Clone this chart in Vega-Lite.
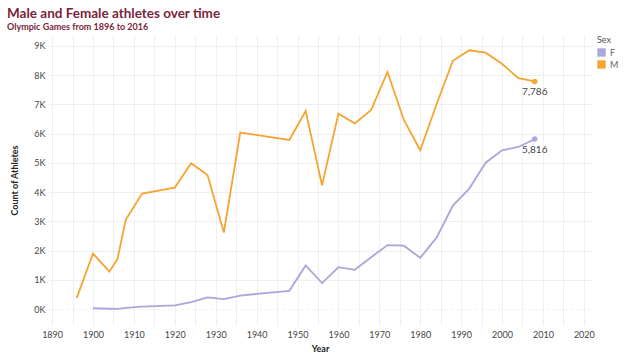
{
  "$schema": "https://vega.github.io/schema/vega-lite/v6.json",
  "autosize": "none",
  "width": 544,
  "height": 290,
  "padding": {"left": 48, "top": 35, "right": 50, "bottom": 31},
  "background": "white",
  "config": {
    "font": "Lato",
    "view": {"stroke": null}
  },
  "title": {
    "text": "Male and Female athletes over time",
    "subtitle": "Olympic Games from 1896 to 2016",
    "anchor": "start",
    "frame": "group",
    "dx": -41,
    "offset": 3,
    "fontSize": 13.5,
    "fontWeight": "bold",
    "color": "#7b1f3a",
    "subtitleFontSize": 9,
    "subtitleFontWeight": "bold",
    "subtitleColor": "#7b1f3a",
    "subtitlePadding": 3
  },
  "data": {
    "values": [
      {"Year": 1896, "Sex": "M", "Count": 380},
      {"Year": 1900, "Sex": "M", "Count": 1903},
      {"Year": 1904, "Sex": "M", "Count": 1285},
      {"Year": 1906, "Sex": "M", "Count": 1722},
      {"Year": 1908, "Sex": "M", "Count": 3054},
      {"Year": 1912, "Sex": "M", "Count": 3953},
      {"Year": 1920, "Sex": "M", "Count": 4158},
      {"Year": 1924, "Sex": "M", "Count": 4989},
      {"Year": 1928, "Sex": "M", "Count": 4588},
      {"Year": 1932, "Sex": "M", "Count": 2622},
      {"Year": 1936, "Sex": "M", "Count": 6038},
      {"Year": 1948, "Sex": "M", "Count": 5788},
      {"Year": 1952, "Sex": "M", "Count": 6773},
      {"Year": 1956, "Sex": "M", "Count": 4234},
      {"Year": 1960, "Sex": "M", "Count": 6684},
      {"Year": 1964, "Sex": "M", "Count": 6354},
      {"Year": 1968, "Sex": "M", "Count": 6811},
      {"Year": 1972, "Sex": "M", "Count": 8111},
      {"Year": 1976, "Sex": "M", "Count": 6469},
      {"Year": 1980, "Sex": "M", "Count": 5435},
      {"Year": 1984, "Sex": "M", "Count": 7007},
      {"Year": 1988, "Sex": "M", "Count": 8494},
      {"Year": 1992, "Sex": "M", "Count": 8853},
      {"Year": 1996, "Sex": "M", "Count": 8772},
      {"Year": 2000, "Sex": "M", "Count": 8390},
      {"Year": 2004, "Sex": "M", "Count": 7897},
      {"Year": 2008, "Sex": "M", "Count": 7786},
      {"Year": 1900, "Sex": "F", "Count": 33},
      {"Year": 1904, "Sex": "F", "Count": 16},
      {"Year": 1906, "Sex": "F", "Count": 11},
      {"Year": 1908, "Sex": "F", "Count": 47},
      {"Year": 1912, "Sex": "F", "Count": 87},
      {"Year": 1920, "Sex": "F", "Count": 134},
      {"Year": 1924, "Sex": "F", "Count": 244},
      {"Year": 1928, "Sex": "F", "Count": 404},
      {"Year": 1932, "Sex": "F", "Count": 347},
      {"Year": 1936, "Sex": "F", "Count": 468},
      {"Year": 1948, "Sex": "F", "Count": 628},
      {"Year": 1952, "Sex": "F", "Count": 1497},
      {"Year": 1956, "Sex": "F", "Count": 893},
      {"Year": 1960, "Sex": "F", "Count": 1435},
      {"Year": 1964, "Sex": "F", "Count": 1348},
      {"Year": 1968, "Sex": "F", "Count": 1777},
      {"Year": 1972, "Sex": "F", "Count": 2193},
      {"Year": 1976, "Sex": "F", "Count": 2172},
      {"Year": 1980, "Sex": "F", "Count": 1756},
      {"Year": 1984, "Sex": "F", "Count": 2447},
      {"Year": 1988, "Sex": "F", "Count": 3543},
      {"Year": 1992, "Sex": "F", "Count": 4124},
      {"Year": 1996, "Sex": "F", "Count": 5008},
      {"Year": 2000, "Sex": "F", "Count": 5431},
      {"Year": 2004, "Sex": "F", "Count": 5546},
      {"Year": 2008, "Sex": "F", "Count": 5816}
    ]
  },
  "encoding": {
    "x": {
      "field": "Year",
      "type": "quantitative",
      "scale": {"domain": [1889, 2022], "nice": false, "zero": false},
      "axis": {
        "title": "Year",
        "titleFontSize": 9,
        "titleFontWeight": "bold",
        "titleColor": "#222",
        "titlePadding": 5,
        "values": [1890, 1895, 1900, 1905, 1910, 1915, 1920, 1925, 1930, 1935, 1940, 1945, 1950, 1955, 1960, 1965, 1970, 1975, 1980, 1985, 1990, 1995, 2000, 2005, 2010, 2015, 2020],
        "labelExpr": "datum.value % 10 == 0 ? datum.value : ''",
        "labelFontSize": 9,
        "labelColor": "#444",
        "labelPadding": 5,
        "ticks": false,
        "domain": false,
        "grid": true,
        "gridColor": "#efefef",
        "labelOverlap": false
      }
    },
    "y": {
      "field": "Count",
      "type": "quantitative",
      "scale": {"domain": [-540, 9375], "nice": false, "zero": false},
      "axis": {
        "title": "Count of Athletes",
        "titleFontSize": 9,
        "titleFontWeight": "bold",
        "titleColor": "#222",
        "titlePadding": 14,
        "values": [0, 1000, 2000, 3000, 4000, 5000, 6000, 7000, 8000, 9000],
        "labelExpr": "format(datum.value / 1000, 'd') + 'K'",
        "labelFontSize": 9,
        "labelColor": "#444",
        "labelPadding": 3,
        "ticks": false,
        "domain": false,
        "grid": true,
        "gridColor": "#efefef",
        "gridDash": {"condition": {"test": "datum.value === 0", "value": [3, 3]}, "value": []}
      }
    },
    "color": {
      "field": "Sex",
      "type": "nominal",
      "scale": {"domain": ["F", "M"], "range": ["#a9a6dc", "#f5a431"]},
      "legend": {
        "title": "Sex",
        "orient": "none",
        "legendX": 549,
        "legendY": 1,
        "titleFontSize": 9,
        "titleFontWeight": "normal",
        "titleColor": "#555",
        "labelFontSize": 9,
        "labelColor": "#666",
        "symbolType": "square",
        "symbolSize": 70,
        "symbolStrokeWidth": 0,
        "rowPadding": 2,
        "titlePadding": 3
      }
    }
  },
  "layer": [
    {"mark": {"type": "line", "strokeWidth": 1.8}},
    {
      "transform": [{"filter": "datum.Year == 2008"}],
      "mark": {"type": "point", "filled": true, "size": 30, "opacity": 1}
    },
    {
      "transform": [{"filter": "datum.Year == 2008"}],
      "mark": {"type": "text", "dy": 11, "fontSize": 10, "color": "#444", "baseline": "middle"},
      "encoding": {
        "text": {"field": "Count", "type": "quantitative", "format": ","},
        "color": {"value": "#444"}
      }
    }
  ]
}
